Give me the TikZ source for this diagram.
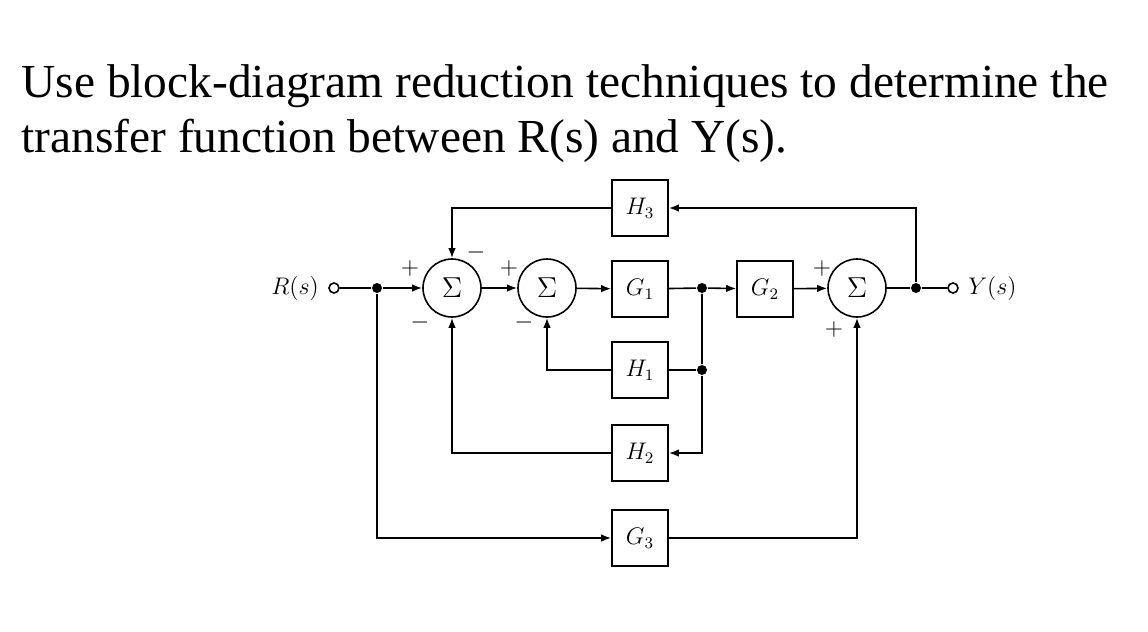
\documentclass[tikz,border=0pt]{standalone}
\usepackage{fontspec}
\setmainfont{Liberation Serif}
\usetikzlibrary{positioning, arrows.meta}

\tikzset{
    block/.style={draw, minimum width=28pt, minimum height=28pt, inner sep=0pt, font=\large},
    sum/.style={draw, circle, minimum size=29pt, inner sep=0pt, font=\Large},
    dot/.style={circle, fill, inner sep=0pt, minimum size=5pt},
    port/.style={circle, draw, inner sep=0pt, minimum size=5pt},
    sig/.style={font=\large}
}

\begin{document}
\begin{tikzpicture}[x=0.5pt, y=0.5pt, >={Latex[length=5pt]}, line width=0.8pt]
\useasboundingbox (0,0) rectangle (1148,-632);

\node[anchor=base west, font=\fontsize{23.7}{28}\selectfont] (l1) at (14,-97) {Use block-diagram reduction techniques to determine the};
\node[anchor=base west, font=\fontsize{23.7}{28}\selectfont] (l2) at (14,-152) {transfer function between R(s) and Y(s).};

\node[port] (in) at (334,-288) {};
\node[sig, left=1pt of in] {$R(s)$};
\node[dot] (d1) at (377,-288) {};
\node[sum] (s1) at (452,-288) {$\Sigma$};
\node[sum] (s2) at (547,-288) {$\Sigma$};
\node[block] (g1) at (640,-289) {$G_1$};
\node[dot] (d2) at (702,-288) {};
\node[block] (g2) at (765,-289) {$G_2$};
\node[sum] (s3) at (857,-288) {$\Sigma$};
\node[dot] (d3) at (916,-288) {};
\node[port] (out) at (953,-288) {};
\node[sig, right=1pt of out] {$Y(s)$};

\node[block] (h3) at (640,-208) {$H_3$};
\node[block] (h1) at (640,-370) {$H_1$};
\node[dot] (d4) at (702,-370) {};
\node[block] (h2) at (640,-453) {$H_2$};
\node[block] (g3) at (640,-538) {$G_3$};

% signs
\node[sig] at (410,-268) {$+$};
\node[sig] at (420,-322) {$-$};
\node[sig] at (476,-252) {$-$};
\node[sig] at (509,-268) {$+$};
\node[sig] at (524,-322) {$-$};
\node[sig] at (822,-268) {$+$};
\node[sig] at (834,-329) {$+$};

\draw
    (in) -- (d1)
    (d1) edge[->] (s1)
    (s1) edge[->] (s2)
    (s2) edge[->] (g1)
    (g1) -- (d2)
    (d2) edge[->] (g2)
    (g2) edge[->] (s3)
    (s3) -- (d3)
    (d3) -- (out)
    (d2) -- (d4)
    (d4) -- (h1)
    ;
\draw[->] (d3) |- (h3);
\draw[->] (h3) -| (s1);
\draw[->] (h1) -| (s2);
\draw[->] (d4) |- (h2);
\draw[->] (h2) -| (s1);
\draw[->] (d1) |- (g3);
\draw[->] (g3) -| (s3);
\end{tikzpicture}
\end{document}
